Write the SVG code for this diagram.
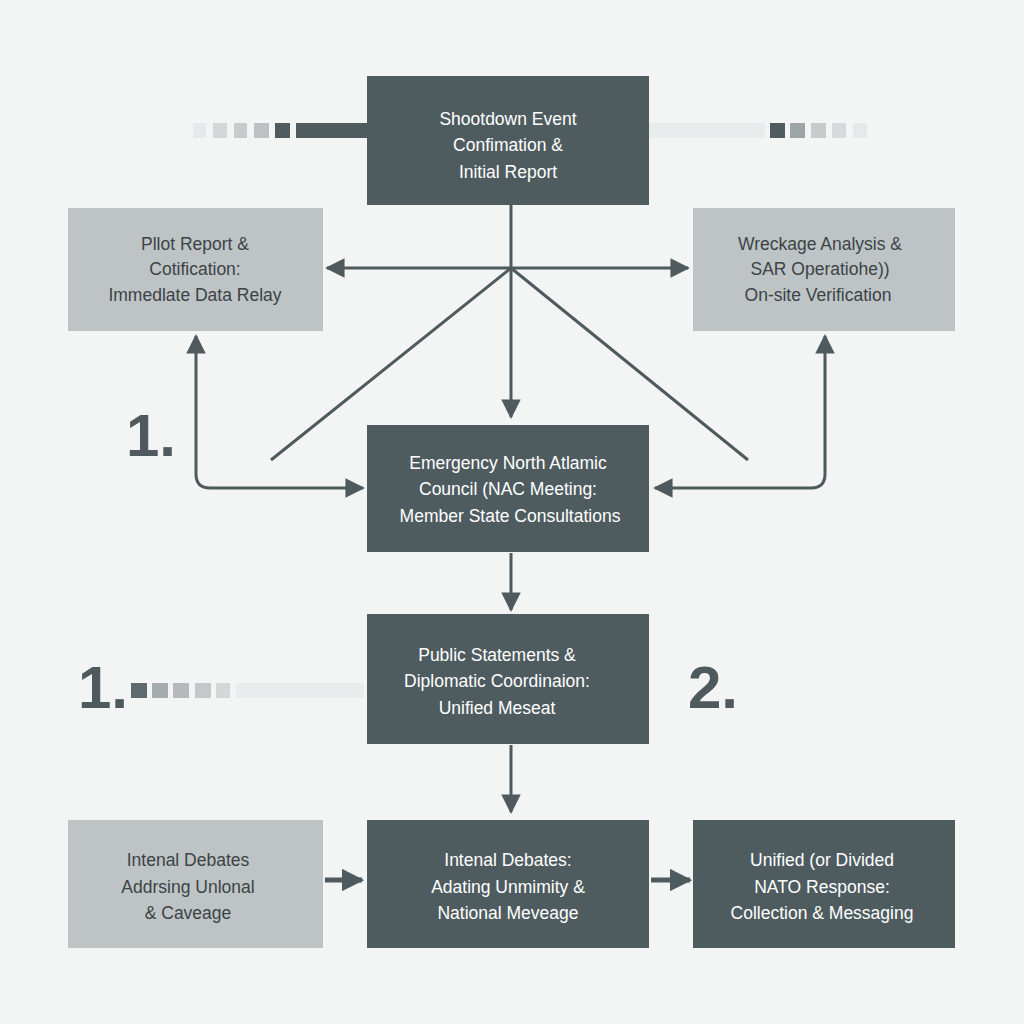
<svg xmlns="http://www.w3.org/2000/svg" width="1024" height="1024" viewBox="0 0 1024 1024">
<defs>
<style>
.dark{fill:#4e5c60}
.light{fill:#bec3c5}
.tw{fill:#ffffff;font-family:"Liberation Sans",Arial,sans-serif;font-size:17.5px;text-anchor:middle}
.tk{fill:#3b4346;font-family:"Liberation Sans",Arial,sans-serif;font-size:17.5px;text-anchor:middle}
.num{fill:#4e5a5e;font-family:"Liberation Sans",Arial,sans-serif;font-size:60px;font-weight:bold}
.ln{stroke:#4e5a5e;stroke-width:3;fill:none}
.lnb{stroke:#4e5a5e;stroke-width:5;fill:none}
</style>
<marker id="ah" viewBox="0 0 10 10" refX="9" refY="5" markerWidth="6.5" markerHeight="6.5" orient="auto-start-reverse" markerUnits="strokeWidth">
<path d="M0,0 L10,5 L0,10 z" fill="#4e5a5e"/>
</marker>
<marker id="ahb" viewBox="0 0 10 10" refX="9" refY="5" markerWidth="4.5" markerHeight="4.5" orient="auto" markerUnits="strokeWidth">
<path d="M0,0 L10,5 L0,10 z" fill="#4e5a5e"/>
</marker>
</defs>
<rect width="1024" height="1024" fill="#f3f5f5"/>

<g id="decor">
<rect x="193" y="123" width="13" height="15" fill="#e6e9e9"/>
<rect x="213" y="123" width="14" height="15" fill="#d3d7d8"/>
<rect x="234" y="123" width="13" height="15" fill="#c6cbcc"/>
<rect x="254" y="123" width="15" height="15" fill="#bcc1c3"/>
<rect x="275" y="123" width="15" height="15" fill="#4e5c60"/>
<rect x="296" y="123" width="71" height="15" fill="#4e5c60"/>
<rect x="649" y="123" width="116" height="15" fill="#e9ecec"/>
<rect x="770" y="123" width="15" height="15" fill="#4e5c60"/>
<rect x="790" y="123" width="15" height="15" fill="#9ea5a7"/>
<rect x="811" y="123" width="15" height="15" fill="#c6cbcc"/>
<rect x="832" y="123" width="14" height="15" fill="#d6dadb"/>
<rect x="853" y="123" width="14" height="15" fill="#e6e9e9"/>
<text class="num" x="126" y="456">1.</text>
<text class="num" x="78" y="708">1.</text>
<rect x="131" y="683" width="16" height="15" fill="#5d6a6e"/>
<rect x="152" y="683" width="16" height="15" fill="#a5acae"/>
<rect x="173" y="683" width="16" height="15" fill="#b4babc"/>
<rect x="195" y="683" width="16" height="15" fill="#c3c8ca"/>
<rect x="216" y="683" width="14" height="15" fill="#d3d7d8"/>
<rect x="236" y="683" width="128" height="15" fill="#e9ecec"/>
<text class="num" x="688" y="708">2.</text>
</g>

<g id="connectors">
<line class="ln" x1="511" y1="205" x2="511" y2="417" marker-end="url(#ah)"/>
<line class="ln" x1="511" y1="268" x2="327" y2="268" marker-end="url(#ah)"/>
<line class="ln" x1="511" y1="268" x2="688" y2="268" marker-end="url(#ah)"/>
<line class="ln" x1="511" y1="268" x2="271" y2="460"/>
<line class="ln" x1="511" y1="268" x2="748" y2="460"/>
<path class="ln" d="M196,336 L196,474 Q196,488 210,488 L363,488" marker-start="url(#ah)" marker-end="url(#ah)"/>
<path class="ln" d="M825,336 L825,474 Q825,488 811,488 L655,488" marker-start="url(#ah)" marker-end="url(#ah)"/>
<line class="ln" x1="511" y1="553" x2="511" y2="610" marker-end="url(#ah)"/>
<line class="ln" x1="511" y1="745" x2="511" y2="812" marker-end="url(#ah)"/>
<line class="lnb" x1="325" y1="880" x2="362" y2="880" marker-end="url(#ahb)"/>
<line class="lnb" x1="651" y1="880" x2="690" y2="880" marker-end="url(#ahb)"/>
</g>

<g id="n1">
<rect class="dark" x="367" y="76" width="282" height="129"/>
<text class="tw" x="508" y="125">Shootdown Event</text>
<text class="tw" x="508" y="151">Confimation &amp;</text>
<text class="tw" x="508" y="178">Initial Report</text>
</g>
<g id="n2">
<rect class="light" x="68" y="208" width="255" height="123"/>
<text class="tk" x="195" y="250">Pllot Report &amp;</text>
<text class="tk" x="195" y="275">Cotification:</text>
<text class="tk" x="195" y="301">Immedlate Data Relay</text>
</g>
<g id="n3">
<rect class="light" x="693" y="208" width="262" height="123"/>
<text class="tk" x="820" y="250">Wreckage Analysis &amp;</text>
<text class="tk" x="820" y="275">SAR Operatiohe))</text>
<text class="tk" x="818" y="301">On-site Verification</text>
</g>
<g id="n4">
<rect class="dark" x="367" y="425" width="282" height="127"/>
<text class="tw" x="508" y="469">Emergency North Atlamic</text>
<text class="tw" x="508" y="495">Council (NAC Meeting:</text>
<text class="tw" x="510" y="522">Member State Consultations</text>
</g>
<g id="n5">
<rect class="dark" x="367" y="614" width="282" height="130"/>
<text class="tw" x="497" y="661">Public Statements &amp;</text>
<text class="tw" x="497" y="687">Diplomatic Coordinaion:</text>
<text class="tw" x="497" y="714">Unified Meseat</text>
</g>
<g id="n6">
<rect class="light" x="68" y="820" width="255" height="128"/>
<text class="tk" x="188" y="866">Intenal Debates</text>
<text class="tk" x="188" y="893">Addrsing Unlonal</text>
<text class="tk" x="188" y="919">&amp; Caveage</text>
</g>
<g id="n7">
<rect class="dark" x="367" y="820" width="282" height="128"/>
<text class="tw" x="508" y="866">Intenal Debates:</text>
<text class="tw" x="508" y="893">Adating Unmimity &amp;</text>
<text class="tw" x="508" y="919">National Meveage</text>
</g>
<g id="n8">
<rect class="dark" x="693" y="820" width="262" height="128"/>
<text class="tw" x="822" y="866">Unified (or Divided</text>
<text class="tw" x="822" y="893">NATO Response:</text>
<text class="tw" x="822" y="919">Collection &amp; Messaging</text>
</g>
</svg>
